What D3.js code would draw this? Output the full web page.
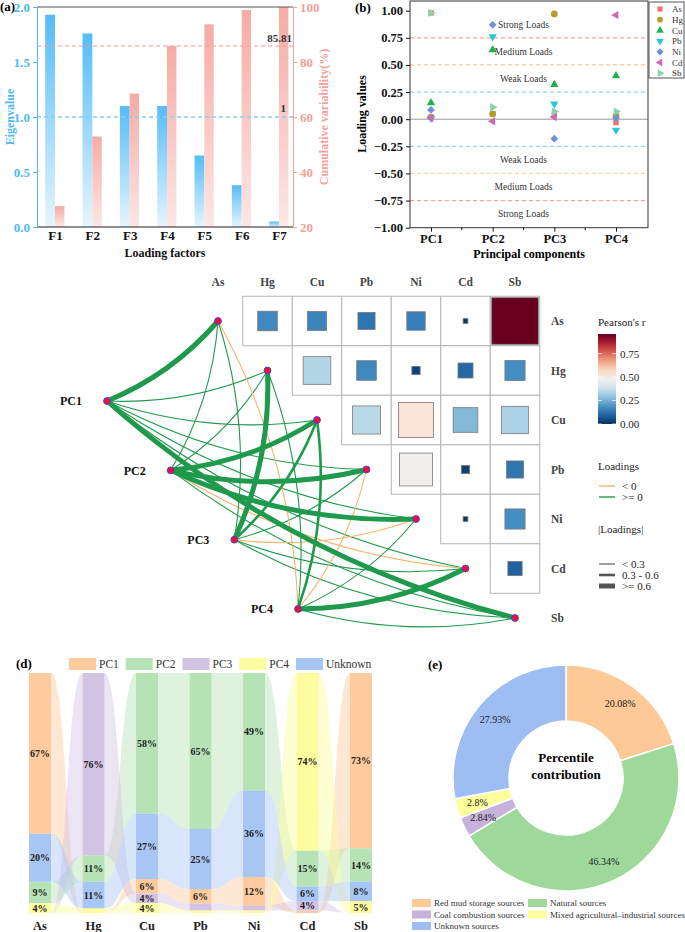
<!DOCTYPE html>
<html>
<head>
<meta charset="utf-8">
<script src="https://cdn.jsdelivr.net/npm/d3@7"></script>
<style>
  body { margin: 0; background: #fff; }
  svg { display: block; font-family: "Liberation Serif", "Times New Roman", serif; }
</style>
</head>
<body>
<div id="fig"></div>
<script>
// ---- data ----
const factors = ["F1", "F2", "F3", "F4", "F5", "F6", "F7"];
const eigenvalues = [1.93, 1.76, 1.10, 1.10, 0.65, 0.38, 0.05];
const cumVariability = [27.6, 52.9, 68.5, 85.81, 93.7, 98.9, 100];

const pcs = ["PC1", "PC2", "PC3", "PC4"];
const metals = ["As", "Hg", "Cu", "Pb", "Ni", "Cd", "Sb"];
// loadings per PC, in metal order
const loadPC1 = [0.98, 0.02, 0.15, 0.01, 0.085, 0.01, 0.98];
const loadPC2 = [0.05, 0.05, 0.64, 0.76, 0.87, -0.02, 0.11];
const loadPC3 = [0.05, 0.97, 0.32, 0.14, -0.18, 0.02, 0.07];
const loadPC4 = [-0.03, 0.03, 0.40, -0.10, 0.01, 0.96, 0.07];
const loadings = [loadPC1, loadPC2, loadPC3, loadPC4];

const loadLevels = [0.25, 0.5, 0.75];
const loadZoneText = ["Strong Loads", "Medium Loads", "Weak Loads", "Weak Loads", "Medium Loads", "Strong Loads"];
const loadZoneAt = [0.875, 0.625, 0.375, -0.375, -0.625, -0.875];

// Pearson's r, upper triangle
const pearsonPairs = [
  ["As", "Hg", 0.17], ["As", "Cu", 0.16], ["As", "Pb", 0.13], ["As", "Ni", 0.15], ["As", "Cd", 0.01], ["As", "Sb", 0.96],
  ["Hg", "Cu", 0.34], ["Hg", "Pb", 0.17], ["Hg", "Ni", 0.03], ["Hg", "Cd", 0.10], ["Hg", "Sb", 0.18],
  ["Cu", "Pb", 0.35], ["Cu", "Ni", 0.54], ["Cu", "Cd", 0.27], ["Cu", "Sb", 0.33],
  ["Pb", "Ni", 0.48], ["Pb", "Cd", 0.03], ["Pb", "Sb", 0.13],
  ["Ni", "Cd", 0.01], ["Ni", "Sb", 0.18],
  ["Cd", "Sb", 0.09]
];
const pearsonTicks = [0, 0.25, 0.5, 0.75];

// source contributions (%), columns: PC1, PC2, PC3, PC4, Unknown
const sourceGroups = ["PC1", "PC2", "PC3", "PC4", "Unknown"];
const contributions = [
  [67, 9, 0, 4, 20],   // As
  [0, 11, 76, 2, 11],  // Hg
  [6, 58, 4, 4, 27],   // Cu
  [6, 65, 3, 1, 25],   // Pb
  [12, 49, 2, 1, 36],  // Ni
  [1, 15, 4, 74, 6],   // Cd
  [73, 14, 0, 5, 8]    // Sb
];

const sourceNames = ["Red mud storage sources", "Natural sources", "Coal combustion sources",
  "Mixed agricultural\u2013industrial sources", "Unknown sources"];
const sourceShares = [20.08, 46.34, 2.84, 2.8, 27.93];

// ---- styles ----
const blue = "#4fb9f2", salmon = "#f3a199";
const metalColors = ["#f26d6d", "#b8992b", "#22b04e", "#25c9d6", "#6a93db", "#d464b8", "#86d3b0"];
const metalSymbols = [
  { type: d3.symbolSquare, rot: 0 }, { type: d3.symbolCircle, rot: 0 }, { type: d3.symbolTriangle, rot: 0 },
  { type: d3.symbolTriangle, rot: 180 }, { type: d3.symbolSquare, rot: 45 }, { type: d3.symbolTriangle, rot: -90 },
  { type: d3.symbolTriangle, rot: 90 }
];
const groupColors = ["#fdcb9e", "#b5e3b5", "#d3c3e3", "#fdfc9e", "#a8c6f3"];
const pieColors = ["#fdc997", "#9ed89b", "#c6b2da", "#fdfd9c", "#9dbdf3"];
const posColor = "#1f9a4d", negColor = "#f6b46e";
const serif = "'Liberation Serif', 'Times New Roman', serif";

const svg = d3.select("#fig").append("svg").attr("width", 685).attr("height", 932)
  .attr("font-family", serif);
svg.append("rect").attr("width", 685).attr("height", 932).attr("fill", "#fff");
const defs = svg.append("defs");

function vGrad(id, top, bottom) {
  const g = defs.append("linearGradient").attr("id", id)
    .attr("x1", 0).attr("y1", 0).attr("x2", 0).attr("y2", 1);
  g.append("stop").attr("offset", 0).attr("stop-color", top);
  g.append("stop").attr("offset", 1).attr("stop-color", bottom);
  return g;
}
vGrad("gBlue", "#55bcf8", "#e6f5fe");
vGrad("gPink", "#f6aba5", "#fde7e5");

function styleAxis(g, size, color, bold) {
  g.attr("font-family", serif).attr("font-size", size)
    .attr("font-weight", bold ? "bold" : null);
  if (color) {
    g.selectAll("line,path").attr("stroke", color);
    g.selectAll("text").attr("fill", color);
  }
}

// ================= (a) =================
const A = { left: 37, right: 293, top: 7, bottom: 227 };
const ax = d3.scalePoint().domain(factors).range([55, 279]);
const ayL = d3.scaleLinear().domain([0, 2]).range([A.bottom, A.top]);
const ayR = d3.scaleLinear().domain([20, 100]).range([A.bottom, A.top]);
const gA = svg.append("g");

gA.selectAll(".eig").data(factors).join("rect")
  .attr("x", d => ax(d) - 9.8).attr("width", 9.8)
  .attr("y", (d, i) => ayL(eigenvalues[i]))
  .attr("height", (d, i) => A.bottom - ayL(eigenvalues[i]))
  .attr("fill", "url(#gBlue)");
gA.selectAll(".cum").data(factors).join("rect")
  .attr("x", d => ax(d)).attr("width", 9.4)
  .attr("y", (d, i) => ayR(cumVariability[i]))
  .attr("height", (d, i) => A.bottom - ayR(cumVariability[i]))
  .attr("fill", "url(#gPink)");

gA.append("line").attr("x1", A.left).attr("x2", A.right)
  .attr("y1", ayR(85.81)).attr("y2", ayR(85.81))
  .attr("stroke", "#f59a93").attr("stroke-width", 1.2).attr("stroke-dasharray", "4,3");
gA.append("line").attr("x1", A.left).attr("x2", A.right)
  .attr("y1", ayL(1)).attr("y2", ayL(1))
  .attr("stroke", "#86cdf5").attr("stroke-width", 1.5).attr("stroke-dasharray", "4,3");
gA.append("text").attr("x", 292).attr("y", ayR(85.81) - 4).attr("text-anchor", "end")
  .attr("font-size", 11).attr("font-weight", "bold").attr("fill", "#333").text("85.81");
gA.append("text").attr("x", 286).attr("y", ayL(1) - 5).attr("text-anchor", "end")
  .attr("font-size", 11).attr("font-weight", "bold").attr("fill", "#333").text("1");

gA.append("line").attr("x1", A.left).attr("x2", A.right).attr("y1", A.top).attr("y2", A.top)
  .attr("stroke", "#555");
gA.append("line").attr("x1", A.left).attr("x2", A.right).attr("y1", A.bottom).attr("y2", A.bottom)
  .attr("stroke", "#222");

const aL = gA.append("g").attr("transform", `translate(${A.left},0)`)
  .call(d3.axisLeft(ayL).tickValues([0, 0.5, 1, 1.5, 2]).tickFormat(d3.format(".1f")).tickSize(4).tickSizeOuter(0));
styleAxis(aL, 13, blue, true);
const aR = gA.append("g").attr("transform", `translate(${A.right},0)`)
  .call(d3.axisRight(ayR).tickValues([20, 40, 60, 80, 100]).tickSize(4).tickSizeOuter(0));
styleAxis(aR, 13, salmon, true);
const aB = gA.append("g").attr("transform", `translate(0,${A.bottom})`)
  .call(d3.axisBottom(ax).tickSize(0).tickPadding(4));
aB.select(".domain").remove();
styleAxis(aB, 13, "#111", true);

gA.append("text").attr("transform", `translate(10,117) rotate(-90)`).attr("text-anchor", "middle")
  .attr("dy", "0.35em").attr("font-size", 12).attr("font-weight", "bold").attr("fill", blue).text("Eigenvalue");
gA.append("text").attr("transform", `translate(324,117) rotate(-90)`).attr("text-anchor", "middle")
  .attr("dy", "0.35em").attr("font-size", 12).attr("font-weight", "bold").attr("fill", salmon)
  .text("Cumulative variability(%)");
gA.append("text").attr("x", 165).attr("y", 257).attr("text-anchor", "middle")
  .attr("font-size", 12).attr("font-weight", "bold").attr("fill", "#111").text("Loading factors");
gA.append("text").attr("x", 0).attr("y", 11).attr("font-size", 13).attr("font-weight", "bold").text("(a)");

// ================= (b) =================
const B = { left: 410, right: 648, top: 1, bottom: 227.7 };
const bx = d3.scalePoint().domain(pcs).range([431, 616]);
const by = d3.scaleLinear().domain([-1, 1]).range([227.7, 10.7]);
const gB = svg.append("g");

const levelColors = { 0.25: "#8fd3f5", 0.5: "#f7c98c", 0.75: "#f5a3a3" };
loadLevels.forEach(v => {
  [v, -v].forEach(y => {
    gB.append("line").attr("x1", B.left).attr("x2", B.right).attr("y1", by(y)).attr("y2", by(y))
      .attr("stroke", levelColors[v]).attr("stroke-width", 1.2).attr("stroke-dasharray", "4,3")
      .attr("opacity", y < 0 && v === 0.5 ? 0.7 : 1);
  });
});
gB.append("line").attr("x1", B.left).attr("x2", B.right).attr("y1", by(0)).attr("y2", by(0))
  .attr("stroke", "#999").attr("stroke-width", 1);

const zoneX = (bx("PC2") + bx("PC3")) / 2;
gB.selectAll(".zone").data(loadZoneText).join("text")
  .attr("x", zoneX).attr("y", (d, i) => by(loadZoneAt[i])).attr("dy", "0.35em")
  .attr("text-anchor", "middle").attr("font-size", 9.5).attr("fill", "#333").text(d => d);

metals.forEach((m, k) => {
  const sym = d3.symbol().type(metalSymbols[k].type).size(metalSymbols[k].type === d3.symbolCircle ? 36 : 30);
  pcs.forEach((p, j) => {
    gB.append("path").attr("d", sym())
      .attr("transform", `translate(${bx(p)},${by(loadings[j][k])}) rotate(${metalSymbols[k].rot})`)
      .attr("fill", metalColors[k]);
  });
});

gB.append("rect").attr("x", B.left).attr("y", B.top).attr("width", B.right - B.left)
  .attr("height", B.bottom - B.top).attr("fill", "none").attr("stroke", "#333");
const bL = gB.append("g").attr("transform", `translate(${B.left},0)`)
  .call(d3.axisLeft(by).tickValues(d3.range(-1, 1.01, 0.25)).tickFormat(d3.format(".2f")).tickSize(4).tickSizeOuter(0));
bL.select(".domain").remove();
styleAxis(bL, 12.5, "#111", true);
const bB = gB.append("g").attr("transform", `translate(0,${B.bottom})`)
  .call(d3.axisBottom(bx).tickSize(4).tickPadding(2));
bB.select(".domain").remove();
styleAxis(bB, 12.5, "#111", true);
d3.pairs(pcs).forEach(([p, q]) => {
  const x = (bx(p) + bx(q)) / 2;
  gB.append("line").attr("x1", x).attr("x2", x).attr("y1", B.bottom).attr("y2", B.bottom + 2.5).attr("stroke", "#111");
});

gB.append("text").attr("transform", `translate(362,114) rotate(-90)`).attr("text-anchor", "middle")
  .attr("dy", "0.35em").attr("font-size", 12).attr("font-weight", "bold").text("Loading values");
gB.append("text").attr("x", 529).attr("y", 258).attr("text-anchor", "middle")
  .attr("font-size", 12).attr("font-weight", "bold").text("Principal components");
gB.append("text").attr("x", 355).attr("y", 12).attr("font-size", 13).attr("font-weight", "bold").text("(b)");

// legend (b)
const bLeg = gB.append("g").attr("transform", "translate(649,2)");
bLeg.append("rect").attr("width", 35).attr("height", 76).attr("fill", "#fff").attr("stroke", "#555");
metals.forEach((m, k) => {
  const sym = d3.symbol().type(metalSymbols[k].type).size(26);
  bLeg.append("path").attr("d", sym())
    .attr("transform", `translate(11,${7 + k * 10.7}) rotate(${metalSymbols[k].rot})`)
    .attr("fill", metalColors[k]);
  bLeg.append("text").attr("x", 23).attr("y", 7 + k * 10.7).attr("dy", "0.35em")
    .attr("font-size", 9).attr("fill", "#333").text(m);
});

// ================= (c) =================
const gC = svg.append("g");
const cx = d3.scalePoint().domain(metals).range([218, 515]);
const cy = d3.scalePoint().domain(metals).range([321, 618]);
const cell = cx.step();
const pcX = d3.scalePoint().domain(pcs).range([107, 298]);
const pcY = d3.scalePoint().domain(pcs).range([401, 609]);
const rColor = d3.scaleSequential(t => d3.interpolateRdBu(1 - t)).domain([0, 0.96]);

// grid cells (upper triangle)
metals.forEach((mi, i) => {
  metals.forEach((mj, j) => {
    if (j <= i) return;
    gC.append("rect").attr("x", cx(mj) - cell / 2).attr("y", cy(mi) - cell / 2)
      .attr("width", cell).attr("height", cell).attr("fill", "#fff")
      .attr("stroke", "#b5b5b5").attr("stroke-width", 1);
  });
});
gC.selectAll(".rsq").data(pearsonPairs).join("rect")
  .each(function (d) {
    const s = Math.min(cell - 1.5, Math.sqrt(d[2]) * cell * 0.96);
    d3.select(this).attr("x", cx(d[1]) - s / 2).attr("y", cy(d[0]) - s / 2)
      .attr("width", s).attr("height", s);
  })
  .attr("fill", d => rColor(d[2])).attr("stroke", "#7a7a7a").attr("stroke-width", 0.8);

gC.selectAll(".colLab").data(metals).join("text")
  .attr("x", d => cx(d)).attr("y", 286).attr("text-anchor", "middle")
  .attr("font-size", 11.5).attr("font-weight", "bold").attr("fill", "#444").text(d => d);
gC.selectAll(".rowLab").data(metals).join("text")
  .attr("x", 551).attr("y", d => cy(d)).attr("dy", "0.35em")
  .attr("font-size", 11.5).attr("font-weight", "bold").attr("fill", "#444").text(d => d);

// network edges
const edges = [];
pcs.forEach((p, j) => metals.forEach((m, k) => edges.push({ p, m, v: loadings[j][k] })));
const edgeWidth = v => Math.abs(v) < 0.3 ? 1.1 : Math.abs(v) < 0.6 ? 2.6 : 5;
edges.sort((a, b) => edgeWidth(a.v) - edgeWidth(b.v));
gC.selectAll(".edge").data(edges).join("path")
  .attr("d", d => {
    const x1 = pcX(d.p), y1 = pcY(d.p), x2 = cx(d.m), y2 = cy(d.m);
    const k = 0.12;
    const qx = (x1 + x2) / 2 - k * (y2 - y1), qy = (y1 + y2) / 2 + k * (x2 - x1);
    return `M${x1},${y1} Q${qx},${qy} ${x2},${y2}`;
  })
  .attr("fill", "none").attr("stroke", d => d.v < 0 ? negColor : posColor)
  .attr("stroke-width", d => edgeWidth(d.v));

const nodePts = pcs.map(p => [pcX(p), pcY(p)]).concat(metals.map(m => [cx(m), cy(m)]));
gC.selectAll(".node").data(nodePts).join("circle")
  .attr("cx", d => d[0]).attr("cy", d => d[1]).attr("r", 3.4)
  .attr("fill", "#f0102a").attr("stroke", "#4a3df0").attr("stroke-width", 1);
gC.selectAll(".pcLab").data(pcs).join("text")
  .attr("x", d => pcX(d) - 25).attr("y", d => pcY(d)).attr("dy", "0.35em").attr("text-anchor", "end")
  .attr("font-size", 12).attr("font-weight", "bold").attr("fill", "#111").text(d => d);

// legend (c)
const cLeg = gC.append("g");
cLeg.append("text").attr("x", 598).attr("y", 326).attr("font-size", 11).attr("fill", "#222").text("Pearson's r");
const cbY = d3.scaleLinear().domain([0, 0.96]).range([424, 334]);
const cbGrad = defs.append("linearGradient").attr("id", "gR").attr("x1", 0).attr("y1", 1).attr("x2", 0).attr("y2", 0);
d3.range(0, 1.001, 0.1).forEach(t => cbGrad.append("stop").attr("offset", t).attr("stop-color", rColor(t * 0.96)));
cLeg.append("rect").attr("x", 598).attr("y", 334).attr("width", 18).attr("height", 90).attr("fill", "url(#gR)");
pearsonTicks.forEach(t => {
  cLeg.append("line").attr("x1", 598).attr("x2", 602).attr("y1", cbY(t)).attr("y2", cbY(t)).attr("stroke", "#fff").attr("opacity", 0.7);
  cLeg.append("line").attr("x1", 612).attr("x2", 616).attr("y1", cbY(t)).attr("y2", cbY(t)).attr("stroke", "#fff").attr("opacity", 0.7);
  cLeg.append("text").attr("x", 620).attr("y", cbY(t)).attr("dy", "0.35em").attr("font-size", 11)
    .attr("fill", "#222").text(d3.format(".2f")(t));
});
cLeg.append("text").attr("x", 598).attr("y", 470).attr("font-size", 11).attr("fill", "#222").text("Loadings");
[["< 0", negColor, 486], [">= 0", posColor, 497]].forEach(([t, c, y]) => {
  cLeg.append("line").attr("x1", 599).attr("x2", 615).attr("y1", y).attr("y2", y).attr("stroke", c).attr("stroke-width", 1.4);
  cLeg.append("text").attr("x", 622).attr("y", y).attr("dy", "0.35em").attr("font-size", 11).attr("fill", "#222").text(t);
});
cLeg.append("text").attr("x", 598).attr("y", 533).attr("font-size", 11).attr("fill", "#222").text("|Loadings|");
[["< 0.3", 0.1, 564], ["0.3 - 0.6", 0.45, 575], [">= 0.6", 0.8, 586]].forEach(([t, v, y]) => {
  cLeg.append("line").attr("x1", 599).attr("x2", 615).attr("y1", y).attr("y2", y).attr("stroke", "#555").attr("stroke-width", edgeWidth(v));
  cLeg.append("text").attr("x", 622).attr("y", y).attr("dy", "0.35em").attr("font-size", 11).attr("fill", "#222").text(t);
});

// ================= (d) =================
const gD = svg.append("g");
const dxs = d3.scalePoint().domain(metals).range([40, 361]);
const dys = d3.scaleLinear().domain([0, 100]).range([913, 673]);
const barW = 22;
const stacks = metals.map((m, i) => {
  const vals = contributions[i];
  const total = d3.sum(vals);
  const order = d3.range(vals.length).sort((a, b) => vals[b] - vals[a] || a - b);
  let cum = 100;
  const seg = [];
  order.forEach(g => {
    const h = vals[g] / total * 100;
    seg[g] = { top: cum, bot: cum - h, v: vals[g] };
    cum -= h;
  });
  return seg;
});

d3.pairs(d3.range(metals.length)).forEach(([i, j]) => {
  const xL = dxs(metals[i]) + barW / 2, xR = dxs(metals[j]) - barW / 2, xm = (xL + xR) / 2;
  sourceGroups.forEach((g, gi) => {
    const a = stacks[i][gi], b = stacks[j][gi];
    const d = `M${xL},${dys(a.top)} C${xm},${dys(a.top)} ${xm},${dys(b.top)} ${xR},${dys(b.top)}` +
      ` L${xR},${dys(b.bot)} C${xm},${dys(b.bot)} ${xm},${dys(a.bot)} ${xL},${dys(a.bot)} Z`;
    gD.append("path").attr("d", d).attr("fill", groupColors[gi]).attr("fill-opacity", 0.45);
  });
});
metals.forEach((m, i) => {
  sourceGroups.forEach((g, gi) => {
    const s = stacks[i][gi];
    if (s.v <= 0) return;
    gD.append("rect").attr("x", dxs(m) - barW / 2).attr("width", barW)
      .attr("y", dys(s.top)).attr("height", dys(s.bot) - dys(s.top))
      .attr("fill", groupColors[gi]);
    if (s.v >= 4) {
      gD.append("text").attr("x", dxs(m)).attr("y", (dys(s.top) + dys(s.bot)) / 2).attr("dy", "0.35em")
        .attr("text-anchor", "middle").attr("font-size", 10).attr("font-weight", "bold")
        .attr("fill", "#222").text(s.v + "%");
    }
  });
});
gD.selectAll(".dLab").data(metals).join("text")
  .attr("x", d => dxs(d)).attr("y", 930).attr("text-anchor", "middle")
  .attr("font-size", 12.5).attr("font-weight", "bold").attr("fill", "#222").text(d => d);
const legX = d3.scalePoint().domain(sourceGroups).range([69, 296]);
sourceGroups.forEach((g, gi) => {
  gD.append("rect").attr("x", legX(g)).attr("y", 658).attr("width", 27).attr("height", 12).attr("fill", groupColors[gi]);
  gD.append("text").attr("x", legX(g) + 30).attr("y", 668).attr("font-size", 11.5).attr("fill", "#333").text(g);
});
gD.append("text").attr("x", 16).attr("y", 668).attr("font-size", 13).attr("font-weight", "bold").text("(d)");

// ================= (e) =================
const gE = svg.append("g").attr("transform", "translate(566,778)");
const pieData = d3.pie().sort(null).value(d => d)(sourceShares);
const arc = d3.arc().innerRadius(57).outerRadius(113);
const labelArc = d3.arc().innerRadius(92).outerRadius(92);
gE.selectAll(".slice").data(pieData).join("path")
  .attr("d", arc).attr("fill", (d, i) => pieColors[i]).attr("stroke", "#fff").attr("stroke-width", 1.5);
gE.selectAll(".pLab").data(pieData).join("text")
  .attr("transform", d => `translate(${labelArc.centroid(d)})`).attr("dy", "0.35em")
  .attr("text-anchor", "middle").attr("font-size", 10).attr("fill", "#222").text(d => d.data + "%");
gE.append("text").attr("y", -21).attr("dy", "0.35em").attr("text-anchor", "middle")
  .attr("font-size", 13).attr("font-weight", "bold").text("Percentile");
gE.append("text").attr("y", -4).attr("dy", "0.35em").attr("text-anchor", "middle")
  .attr("font-size", 13).attr("font-weight", "bold").text("contribution");
svg.append("text").attr("x", 428).attr("y", 669).attr("font-size", 13).attr("font-weight", "bold").text("(e)");

const eLeg = svg.append("g");
sourceNames.forEach((n, i) => {
  const col = i % 2, row = Math.floor(i / 2);
  const x = col === 0 ? 412 : 528, y = 903 + row * 11.5;
  eLeg.append("rect").attr("x", x).attr("y", y - 4).attr("width", 19).attr("height", 8).attr("fill", pieColors[i]);
  eLeg.append("text").attr("x", x + 22).attr("y", y).attr("dy", "0.35em")
    .attr("font-size", 9).attr("fill", "#333").text(n);
});
</script>
</body>
</html>
